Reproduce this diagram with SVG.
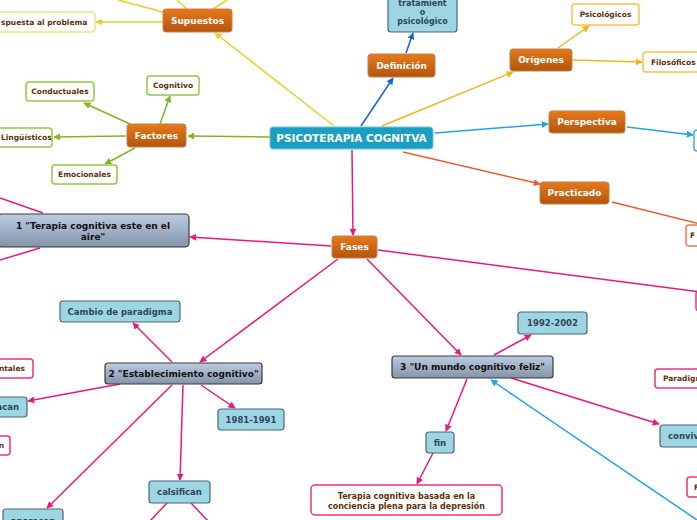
<svg xmlns="http://www.w3.org/2000/svg" width="697" height="520" viewBox="0 0 697 520">
<defs>
<linearGradient id="gOr" x1="0" y1="0" x2="0" y2="1"><stop offset="0" stop-color="#e8791a"/><stop offset="1" stop-color="#b3550d"/></linearGradient>
<linearGradient id="gGr" x1="0" y1="0" x2="0" y2="1"><stop offset="0" stop-color="#bccce3"/><stop offset="1" stop-color="#8393a8"/></linearGradient>
<marker id="mY" viewBox="0 0 10 10" refX="9" refY="5" markerWidth="7" markerHeight="7" markerUnits="userSpaceOnUse" orient="auto"><path d="M0,0 L10,5 L0,10 z" fill="#e8d021"/></marker>
<marker id="mG" viewBox="0 0 10 10" refX="9" refY="5" markerWidth="7" markerHeight="7" markerUnits="userSpaceOnUse" orient="auto"><path d="M0,0 L10,5 L0,10 z" fill="#7fb623"/></marker>
<marker id="mB" viewBox="0 0 10 10" refX="9" refY="5" markerWidth="7" markerHeight="7" markerUnits="userSpaceOnUse" orient="auto"><path d="M0,0 L10,5 L0,10 z" fill="#1762d6"/></marker>
<marker id="mO" viewBox="0 0 10 10" refX="9" refY="5" markerWidth="7" markerHeight="7" markerUnits="userSpaceOnUse" orient="auto"><path d="M0,0 L10,5 L0,10 z" fill="#f7b219"/></marker>
<marker id="mS" viewBox="0 0 10 10" refX="9" refY="5" markerWidth="7" markerHeight="7" markerUnits="userSpaceOnUse" orient="auto"><path d="M0,0 L10,5 L0,10 z" fill="#1ea4e8"/></marker>
<marker id="mR" viewBox="0 0 10 10" refX="9" refY="5" markerWidth="7" markerHeight="7" markerUnits="userSpaceOnUse" orient="auto"><path d="M0,0 L10,5 L0,10 z" fill="#f25a2a"/></marker>
<marker id="mP" viewBox="0 0 10 10" refX="9" refY="5" markerWidth="7" markerHeight="7" markerUnits="userSpaceOnUse" orient="auto"><path d="M0,0 L10,5 L0,10 z" fill="#f0167b"/></marker>
</defs>
<style>
text{font-family:"DejaVu Sans","Verdana",sans-serif;font-weight:bold}
.c line{stroke-width:1.5;fill:none}
.y{stroke:#e8d021}.g{stroke:#7fb623}.b{stroke:#1762d6}.o{stroke:#f7b219}.s{stroke:#1ea4e8}.r{stroke:#f25a2a}.p{stroke:#f0167b}
.root{fill:#1b9ec3;stroke:#6fc3dc;stroke-width:1}
.rt{fill:#fff;font-size:10.5px;text-anchor:middle}
.or{fill:url(#gOr);stroke:#c0814e;stroke-width:1}
.ot{fill:#fff;font-size:9px;text-anchor:middle}
.lb{fill:#9ed5e3;stroke:#4a6878;stroke-width:1.2}
.lt{fill:#2d4756;font-size:8.5px;text-anchor:middle}
.gr{fill:url(#gGr);stroke:#3a3a3a;stroke-width:1.2}
.gt{fill:#111;font-size:9px;text-anchor:middle}
.lf{fill:#fff;stroke-width:1.5}
.ft{fill:#5c3208;font-size:7.5px;text-anchor:middle}
.fy{stroke:#f2e27a}.fg{stroke:#94c940}.fo{stroke:#f8c446}.fs{stroke:#3aaef0}.fr{stroke:#f2764a}.fp{stroke:#f0307f}
</style>
<g id="connectors" class="c">
<line class="y" x1="334" y1="126" x2="215" y2="33" marker-end="url(#mY)"/>
<line class="y" x1="163" y1="22" x2="96" y2="22" marker-end="url(#mY)"/>
<line class="y" x1="163" y1="12" x2="118" y2="0"/>
<line class="y" x1="187" y1="9" x2="177" y2="0"/>
<line class="y" x1="213" y1="9" x2="227" y2="0"/>
<line class="g" x1="270" y1="137" x2="188" y2="136" marker-end="url(#mG)"/>
<line class="g" x1="160" y1="124" x2="170" y2="96" marker-end="url(#mG)"/>
<line class="g" x1="130" y1="124" x2="84" y2="103" marker-end="url(#mG)"/>
<line class="g" x1="126" y1="136" x2="54" y2="137" marker-end="url(#mG)"/>
<line class="g" x1="135" y1="148" x2="105" y2="164" marker-end="url(#mG)"/>
<line class="b" x1="361" y1="126" x2="393" y2="78" marker-end="url(#mB)"/>
<line class="b" x1="406" y1="53" x2="413" y2="33" marker-end="url(#mB)"/>
<line class="o" x1="382" y1="126" x2="513" y2="72" marker-end="url(#mO)"/>
<line class="o" x1="558" y1="48" x2="589" y2="26" marker-end="url(#mO)"/>
<line class="o" x1="573" y1="60" x2="642" y2="62" marker-end="url(#mO)"/>
<line class="s" x1="435" y1="133" x2="548" y2="124" marker-end="url(#mS)"/>
<line class="s" x1="627" y1="127" x2="693" y2="135" marker-end="url(#mS)"/>
<line class="r" x1="403" y1="152" x2="540" y2="184" marker-end="url(#mR)"/>
<line class="r" x1="612" y1="202" x2="700" y2="224"/>
<line class="p" x1="352" y1="150" x2="353" y2="235" marker-end="url(#mP)"/>
<line class="p" x1="378" y1="250" x2="700" y2="292"/>
<line class="p" x1="331" y1="246" x2="190" y2="237" marker-end="url(#mP)"/>
<line class="p" x1="43" y1="213" x2="0" y2="198"/>
<line class="p" x1="40" y1="248" x2="0" y2="260"/>
<line class="p" x1="338" y1="259" x2="200" y2="362" marker-end="url(#mP)"/>
<line class="p" x1="172" y1="362" x2="133" y2="323" marker-end="url(#mP)"/>
<line class="p" x1="120" y1="384" x2="28" y2="401" marker-end="url(#mP)"/>
<line class="p" x1="172" y1="385" x2="47" y2="508" marker-end="url(#mP)"/>
<line class="p" x1="183" y1="385" x2="180" y2="480" marker-end="url(#mP)"/>
<line class="p" x1="201" y1="385" x2="235" y2="408" marker-end="url(#mP)"/>
<line class="p" x1="167" y1="503" x2="150" y2="521"/>
<line class="p" x1="191" y1="503" x2="208" y2="521"/>
<line class="p" x1="367" y1="259" x2="461" y2="355" marker-end="url(#mP)"/>
<line class="p" x1="494" y1="355" x2="531" y2="335" marker-end="url(#mP)"/>
<line class="p" x1="467" y1="379" x2="446" y2="431" marker-end="url(#mP)"/>
<line class="p" x1="433" y1="453" x2="417" y2="484" marker-end="url(#mP)"/>
<line class="p" x1="511" y1="378" x2="659" y2="424" marker-end="url(#mP)"/>
<line class="s" x1="700" y1="522" x2="491" y2="380" marker-end="url(#mS)"/>
</g>
<g id="n-root"><rect class="root" x="270" y="127" width="163" height="22" rx="3"/><text class="rt" x="351.5" y="141.8">PSICOTERAPIA COGNITVA</text></g>
<g id="n-supuestos"><rect class="or" x="163" y="9" width="69" height="23" rx="3"/><text class="ot" x="197.5" y="23.7">Supuestos</text></g>
<g id="n-factores"><rect class="or" x="127" y="124" width="59" height="23" rx="3"/><text class="ot" x="156.5" y="138.7">Factores</text></g>
<g id="n-definicion"><rect class="or" x="368" y="54" width="67" height="23" rx="3"/><text class="ot" x="401.5" y="68.7">Definición</text></g>
<g id="n-origenes"><rect class="or" x="510" y="49" width="62" height="22" rx="3"/><text class="ot" x="541" y="63.2">Orígenes</text></g>
<g id="n-perspectiva"><rect class="or" x="549" y="111" width="76" height="22" rx="3"/><text class="ot" x="587" y="125.2">Perspectiva</text></g>
<g id="n-practicado"><rect class="or" x="540" y="182" width="69" height="22" rx="3"/><text class="ot" x="574.5" y="196.2">Practicado</text></g>
<g id="n-fases"><rect class="or" x="332" y="236" width="45" height="22" rx="3"/><text class="ot" x="354.5" y="250.2">Fases</text></g>
<g id="n-respuesta"><rect class="lf fy" x="-6" y="12" width="101" height="20" rx="3"/><text class="ft" x="1" y="24.7" style="text-anchor:start">spuesta al problema</text></g>
<g id="n-cognitivo"><rect class="lf fg" x="147" y="76" width="52" height="19" rx="3"/><text class="ft" x="173" y="88.2">Cognitivo</text></g>
<g id="n-conductuales"><rect class="lf fg" x="26" y="82" width="68" height="19" rx="3"/><text class="ft" x="60" y="94.2">Conductuales</text></g>
<g id="n-linguisticos"><rect class="lf fg" x="-6" y="128" width="58" height="19" rx="3"/><text class="ft" x="1" y="140.2" style="text-anchor:start">Lingüísticos</text></g>
<g id="n-emocionales"><rect class="lf fg" x="52" y="165" width="65" height="19" rx="3"/><text class="ft" x="84.5" y="177.2">Emocionales</text></g>
<g id="n-tratamiento"><rect class="lb" x="388" y="-30" width="69" height="62" rx="3"/><text class="lt" x="422.5" y="5.5" style="font-size:8px">tratamient</text><text class="lt" x="422.5" y="15" style="font-size:8px">o</text><text class="lt" x="422.5" y="24" style="font-size:8px">psicológico</text></g>
<g id="n-psicologicos"><rect class="lf fo" x="572" y="4" width="67" height="21" rx="3"/><text class="ft" x="605.5" y="17.2">Psicológicos</text></g>
<g id="n-filosoficos"><rect class="lf fo" x="643" y="52" width="62" height="20" rx="3"/><text class="ft" x="651" y="64.7" style="text-anchor:start">Filosóficos</text></g>
<g id="n-persp-child"><rect class="lf fs" x="694" y="130" width="20" height="21" rx="3"/></g>
<g id="n-pract-child"><rect class="lf fr" x="686" y="225" width="30" height="21" rx="3"/><text class="ft" x="690" y="238.2" style="text-anchor:start">F</text></g>
<g id="n-fases-right"><rect class="lf fp" x="696" y="291" width="20" height="20" rx="3"/></g>
<g id="n-fase1"><rect class="gr" x="-2" y="214" width="191" height="33" rx="4"/><text class="gt" x="93" y="229.2">1 "Terapia cognitiva este en el</text><text class="gt" x="93" y="239.8">aire"</text></g>
<g id="n-cambio"><rect class="lb" x="60" y="301" width="120" height="21" rx="3"/><text class="lt" x="120" y="314.5">Cambio de paradigma</text></g>
<g id="n-fase2"><rect class="gr" x="105" y="363" width="157" height="21" rx="3"/><text class="gt" x="183.5" y="376.7">2 "Establecimiento cognitivo"</text></g>
<g id="n-entales"><rect class="lf fp" x="-6" y="359" width="39" height="19" rx="3"/><text class="ft" x="25" y="371.2" style="text-anchor:end">entales</text></g>
<g id="n-acan"><rect class="lb" x="-6" y="397" width="33" height="20" rx="3"/><text class="lt" x="19" y="410" style="text-anchor:end">acan</text></g>
<g id="n-n"><rect class="lf fp" x="-6" y="436" width="16" height="19" rx="3"/><text class="ft" x="4" y="448.2" style="text-anchor:end">n</text></g>
<g id="n-aparecen"><rect class="lb" x="3" y="509" width="60" height="22" rx="3"/><text class="lt" x="33" y="524">aparecen</text></g>
<g id="n-1981"><rect class="lb" x="218" y="409" width="66" height="21" rx="3"/><text class="lt" x="251" y="422.5">1981-1991</text></g>
<g id="n-calsifican"><rect class="lb" x="149" y="481" width="61" height="22" rx="3"/><text class="lt" x="179.5" y="495">calsifican</text></g>
<g id="n-fase3"><rect class="gr" x="392" y="356" width="161" height="22" rx="3"/><text class="gt" x="472.5" y="370.2">3 "Un mundo cognitivo feliz"</text></g>
<g id="n-1992"><rect class="lb" x="518" y="312" width="69" height="22" rx="3"/><text class="lt" x="552.5" y="326">1992-2002</text></g>
<g id="n-fin"><rect class="lb" x="426" y="432" width="28" height="21" rx="3"/><text class="lt" x="440" y="445.5">fin</text></g>
<g id="n-terapia-basada"><rect class="lf fp" x="311" y="485" width="191" height="30" rx="4"/><text class="ft" x="406.5" y="499" style="font-size:8px">Terapia cognitiva basada en la</text><text class="ft" x="406.5" y="508.5" style="font-size:8px">conciencia plena para la depresión</text></g>
<g id="n-conviv"><rect class="lb" x="660" y="425" width="50" height="22" rx="3"/><text class="lt" x="668" y="439" style="text-anchor:start">conviv</text></g>
<g id="n-paradigm"><rect class="lf fp" x="655" y="369" width="50" height="19" rx="3"/><text class="ft" x="663" y="381.2" style="text-anchor:start">Paradigm</text></g>
<g id="n-f-bottom"><rect class="lf fp" x="687" y="477" width="20" height="20" rx="3"/><text class="ft" x="694" y="489.7" style="text-anchor:start">F</text></g>
</svg>
